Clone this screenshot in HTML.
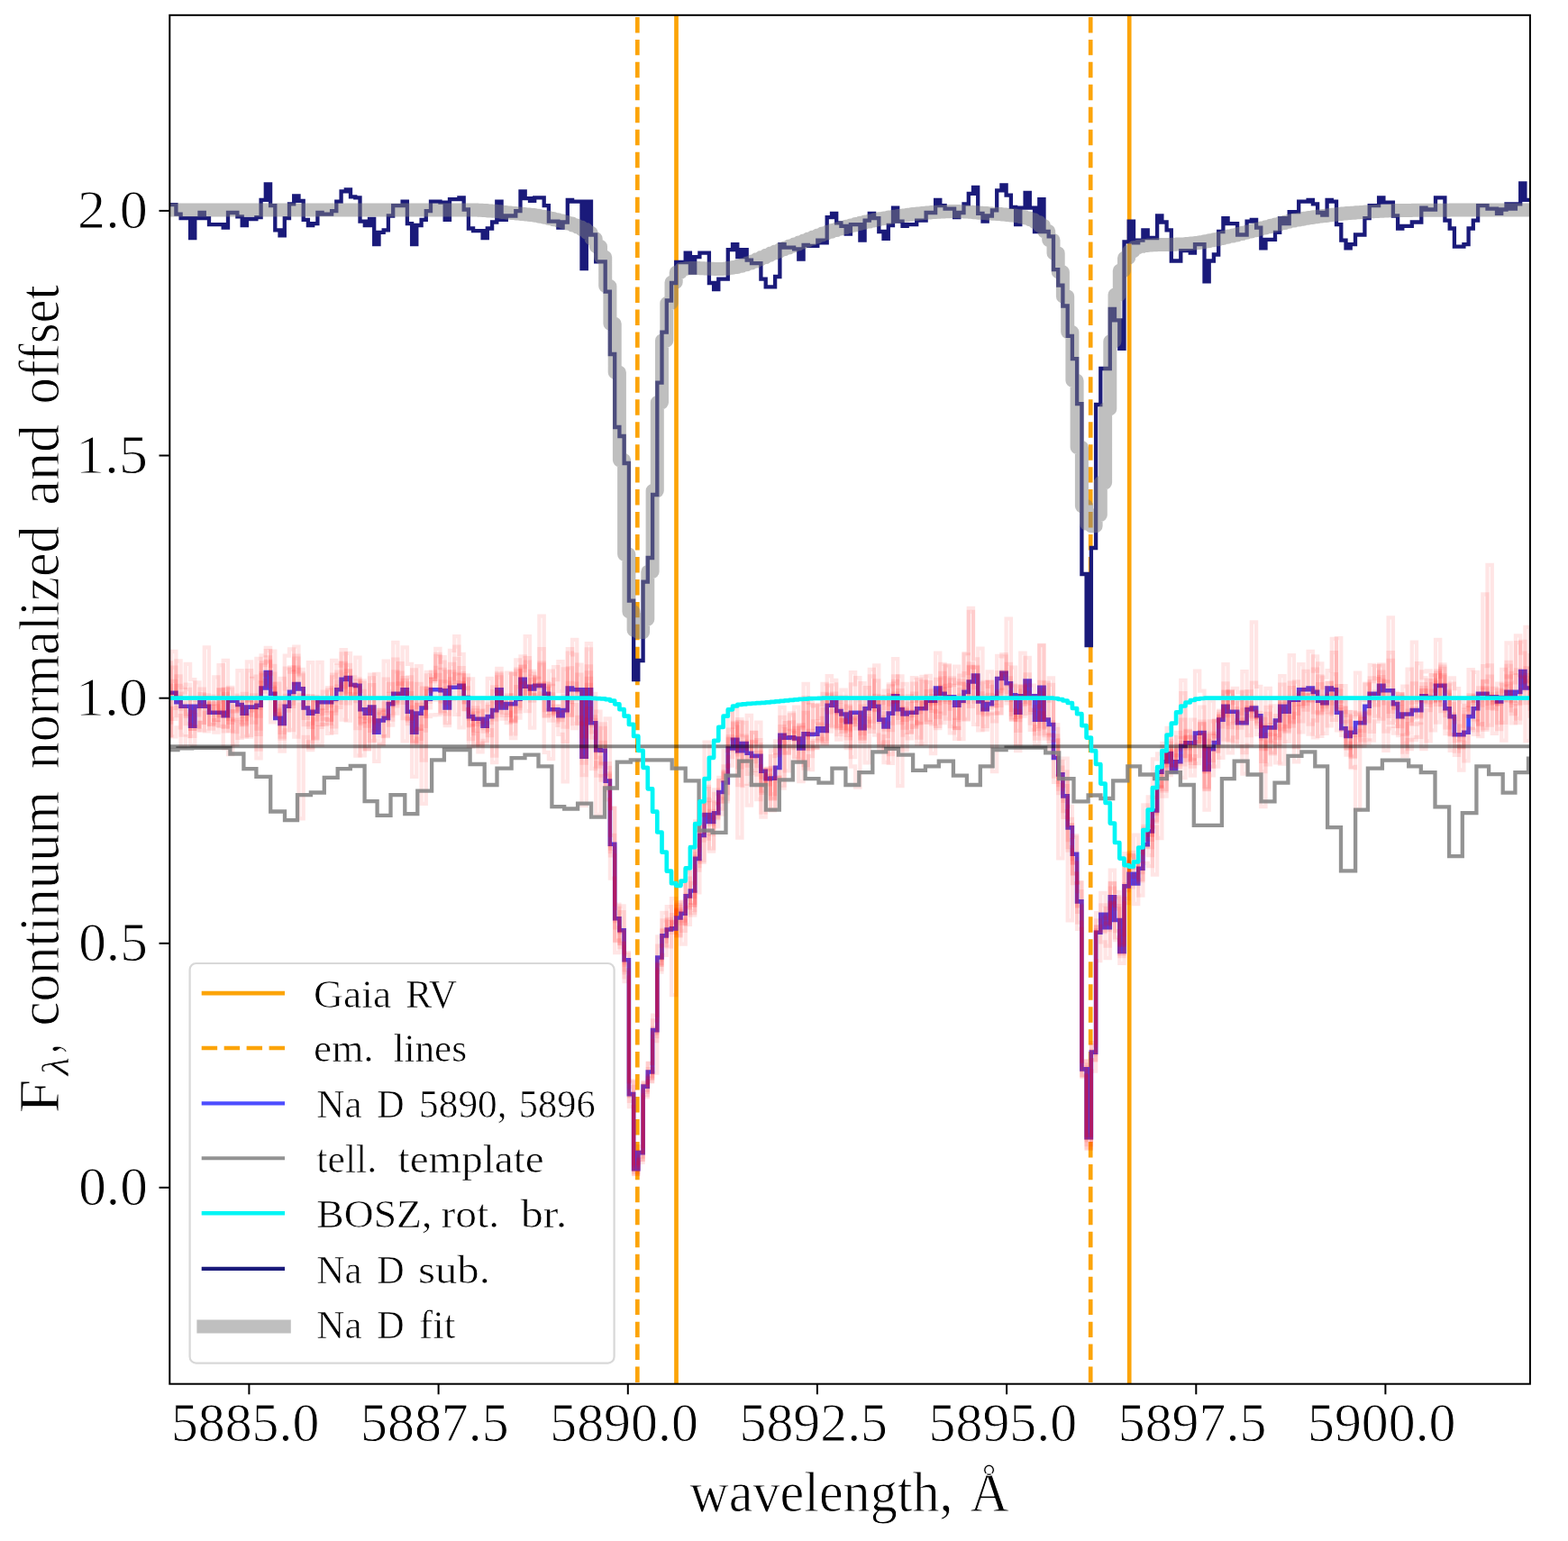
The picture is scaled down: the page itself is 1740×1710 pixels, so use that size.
<!DOCTYPE html>
<html lang="en"><head><meta charset="utf-8"><title>Na D 5890, 5896 spectrum</title><style>html,body{margin:0;padding:0;background:#fff}svg{display:block}</style></head><body>
<svg width="1740" height="1710" viewBox="0 0 1740 1710" font-family="'Liberation Serif', serif" fill="#000">
<rect width="1740" height="1710" fill="#fff"/>
<defs><clipPath id="ax"><rect x="188.3" y="16.8" width="1509.6000000000001" height="1518.9"/></clipPath></defs>
<g>
<g clip-path="url(#ax)" fill="none" stroke-linejoin="miter" stroke-linecap="butt">
<line x1="750.5" y1="1535.7" x2="750.5" y2="16.8" stroke="#fca408" stroke-width="4.7"/>
<line x1="1253.2" y1="1535.7" x2="1253.2" y2="16.8" stroke="#fca408" stroke-width="4.7"/>
<line x1="707.3" y1="1534.0" x2="707.3" y2="16.8" stroke="#fca408" stroke-width="4.7" stroke-dasharray="17.45 7.51"/>
<line x1="1210.2" y1="1534.0" x2="1210.2" y2="16.8" stroke="#fca408" stroke-width="4.7" stroke-dasharray="17.45 7.51"/>
<path d="M188.3 768.8H190.1V768.8H195.4V779.3H200.6V783.7H205.8V783.7H211.1V805.6H216.3V783.7H221.5V777.6H226.8V783.7H232V790.7H237.3V790.7H242.5V790.7H247.7V794.2H253V777.6H258.2V777.6H263.4V782H268.7V791.6H273.9V784.6H279.1V784.6H284.4V782.8H289.6V763.5H294.8V746H300.1V769.7H305.3V796.9H310.5V803H315.8V783.7H321V767.9H326.2V759.1H331.5V764.4H336.7V785.5H341.9V791.6H347.2V789.8H352.4V777.6H357.6V779.3H362.9V779.3H368.1V775.8H373.3V765.3H378.6V753.9H383.8V752.1H389V760H394.3V760.9H399.5V787.2H404.8V791.6H410V784.6H415.2V812.7H420.5V799.5H425.7V796.9H430.9V781.1H436.2V769.7H441.4V769.7H446.6V765.3H451.9V789.8H457.1V812.7H462.3V791.6H467.6V785.5H472.8V775.8H478V765.3H483.3V765.3H488.5V766.2H493.7V785.5H499V762.7H504.2V762.7H509.4V760.9H514.7V774.1H519.9V795.1H525.1V797.7H530.4V797.7H535.6V805.6H540.8V795.1H546.1V788.1H551.3V765.3H556.6V785.5H561.8V781.1H567V781.1H572.3V775.8H577.5V753.9H582.7V761.8H588V764.4H593.2V760.9H598.4V760.9H603.7V769.7H608.9V787.2H614.1V787.2H619.4V794.2H624.6V788.1H629.8V763.5H635.1V765.3H640.3V765.3H645.5V839.8H650.8V765.3H656V802.3H661.2V832.4H666.5V832.7H671.7V866.6H676.9V936.7H682.2V1019.3H687.4V1032.3H692.6V1065.3H697.9V1214.1H703.1V1297.2H708.3V1279.1H713.6V1205.6H718.8V1189.5H724.1V1143.1H729.3V1062.5H734.5V1038.4H739.8V1031.5H745V1030.4H750.2V1018.5H755.5V1013.8H760.7V994.4H765.9V988.5H771.2V952.9H776.4V926.9H781.6V904H786.9V911.9H792.1V902.2H797.3V879H802.6V868.5H807.8V830.5H813V820.9H818.3V833.3H823.5V825H828.7V835.8H834V838.9H839.2V838.7H844.4V855.7H849.7V864.1H854.9V863.6H860.1V851.9H865.4V815.7H870.6V818.7H875.8V818.2H881.1V819.5H886.3V830.5H891.6V814.4H896.8V815H902V814.7H907.3V808.4H912.5V810.9H917.7V782.8H923V778.4H928.2V789H933.4V792.5H938.7V801.2H943.9V790.7H949.1V790.7H954.4V808.3H959.6V786.3H964.8V778.4H970.1V783.7H975.3V798.6H980.5V806.5H985.8V791.6H991V772.3H996.2V787.2H1001.5V792.5H1006.7V790.7H1011.9V790.7H1017.2V786.3H1022.4V786.3H1027.6V777.6H1032.9V777.6H1038.1V763.5H1043.3V769.7H1048.6V773.2H1053.8V773.2H1059.1V782.8H1064.3V777.6H1069.5V767.9H1074.8V756.5H1080V749.5H1085.2V778.4H1090.5V787.2H1095.7V781.1H1100.9V774.9H1106.2V753H1111.4V746.9H1116.6V758.3H1121.9V771.4H1127.1V790.7H1132.3V772.3H1137.6V755.6H1142.8V772.3H1148V798.6H1153.3V762.7H1158.5V798.6H1163.7V804H1169V841H1174.2V859.4H1179.4V883.4H1184.7V918.4H1189.9V947.7H1195.1V1000.4H1200.4V1186.4H1205.6V1262.3H1210.9V1167.6H1216.1V1034.7H1221.3V1014.7H1226.6V1029.1H1231.8V995.4H1237V1021H1242.3V1055.9H1247.5V983.4H1252.7V969.8H1258V980.5H1263.2V963.8H1268.4V937.3H1273.7V922.5H1278.9V899.5H1284.1V856.7H1289.4V845.2H1294.6V836.1H1299.8V856.3H1305.1V845.2H1310.3V827.9H1315.5V824.2H1320.8V824.5H1326V813.6H1331.2V813.1H1336.5V854H1341.7V831.1H1346.9V824.1H1352.2V798.6H1357.4V783.7H1362.6V789.8H1367.9V789.8H1373.1V802.1H1378.4V802.1H1383.6V787.2H1388.8V785.5H1394.1V794.2H1399.3V817H1404.5V807.4H1409.8V807.4H1415V799.5H1420.2V783.7H1425.5V789.8H1430.7V776.7H1435.9V776.7H1441.2V765.3H1446.4V765.3H1451.6V763.5H1456.9V767.9H1462.1V777.6H1467.3V780.2H1472.6V763.5H1477.8V765.3H1483V790.7H1488.3V808.3H1493.5V817H1498.7V812.7H1504V802.1H1509.2V802.1H1514.4V783.7H1519.7V769.7H1524.9V769.7H1530.1V760.9H1535.4V766.2H1540.6V766.2H1545.9V781.1H1551.1V795.1H1556.3V792.5H1561.6V792.5H1566.8V788.1H1572V788.1H1577.3V772.3H1582.5V774.1H1587.7V774.1H1593V760.9H1598.2V760.9H1603.4V786.3H1608.7V795.1H1613.9V815.3H1619.1V815.3H1624.4V812.7H1629.6V795.1H1634.8V786.3H1640.1V769.7H1645.3V769.7H1650.5V773.2H1655.8V773.2H1661V778.4H1666.2V774.1H1671.5V767.9H1676.7V773.2H1681.9V767.9H1687.2V745.1H1692.4V763.5H1697.6V763.5H1697.9M213.7 805.6V783.7M224.2 777.6V783.7M250.3 794.2V790.7M271.3 791.6V784.6M297.4 746V763.5M313.2 803V796.9M328.9 759.1V764.4M344.6 791.6V789.8M355 777.6V779.3M386.4 752.1V753.9M407.4 791.6V787.2M412.6 784.6V791.6M417.8 812.7V799.5M449.2 765.3V769.7M459.7 812.7V791.6M496.4 785.5V766.2M512.1 760.9V762.7M538.2 805.6V797.7M553.9 765.3V785.5M559.2 785.5V781.1M580.1 753.9V761.8M590.6 764.4V761.8M622 794.2V788.1M632.4 763.5V765.3M648.2 839.8V765.3M653.4 765.3V802.3M705.7 1297.2V1279.1M784.2 904V911.9M789.5 911.9V904M815.7 820.9V830.5M820.9 833.3V825M826.1 825V833.3M868 815.7V818.7M888.9 830.5V819.5M909.9 808.4V810.9M915.1 810.9V808.4M925.6 778.4V782.8M941.3 801.2V792.5M957 808.3V790.7M967.5 778.4V783.7M983.2 806.5V798.6M993.6 772.3V787.2M1004.1 792.5V790.7M1040.7 763.5V769.7M1061.7 782.8V777.6M1082.6 749.5V756.5M1093.1 787.2V781.1M1114 746.9V753M1129.7 790.7V772.3M1140.2 755.6V772.3M1150.7 798.6V772.3M1155.9 762.7V798.6M1208.2 1262.3V1186.4M1223.9 1014.7V1029.1M1229.2 1029.1V1014.7M1234.4 995.4V1021M1244.9 1055.9V1021M1255.3 969.8V980.5M1260.6 980.5V969.8M1297.2 836.1V845.2M1302.5 856.3V845.2M1339.1 854V831.1M1360 783.7V789.8M1391.4 785.5V787.2M1401.9 817V807.4M1422.8 783.7V789.8M1428.1 789.8V783.7M1454.2 763.5V765.3M1470 780.2V777.6M1475.2 763.5V765.3M1496.1 817V812.7M1532.8 760.9V766.2M1553.7 795.1V792.5M1579.9 772.3V774.1M1663.6 778.4V774.1M1674.1 767.9V773.2M1679.3 773.2V767.9M1689.8 745.1V763.5" stroke="#4444f8" stroke-width="4.6" stroke-linecap="square"/>
<path d="M188.3 816.2H190.1V772.4H195.4V733.5H200.6V768.4H205.8V764.9H211.1V816.8H216.3V806.5H221.5V801.8H226.8V780.9H232V808.6H237.3V804.9H242.5V765.3H247.7V830.6H253V837.1H258.2V789.1H263.4V784.2H268.7V794.5H273.9V815.9H279.1V780.2H284.4V785.7H289.6V747.2H294.8V771.6H300.1V764.1H305.3V792H310.5V817.5H315.8V788.6H321V780.7H326.2V727.7H331.5V908.3H336.7V817.9H341.9V829.5H347.2V798.3H352.4V792.9H357.6V788.6H362.9V763.1H368.1V812.9H373.3V784.8H378.6V759.1H383.8V780.3H389V751.4H394.3V753.3H399.5V803.1H404.8V831H410V748.7H415.2V802.5H420.5V790.2H425.7V795.3H430.9V781.2H436.2V731.6H441.4V770H446.6V779.8H451.9V758.3H457.1V811.4H462.3V808.8H467.6V805.8H472.8V749.3H478V750.8H483.3V719.8H488.5V778.3H493.7V802.1H499V753.3H504.2V730.8H509.4V747.1H514.7V764.2H519.9V753.4H525.1V814.1H530.4V825.2H535.6V821.9H540.8V802.1H546.1V779.8H551.3V741.8H556.6V776.4H561.8V746.7H567V799.7H572.3V732.5H577.5V772.9H582.7V734.7H588V807.7H593.2V752.9H598.4V759.7H603.7V757.8H608.9V770.4H614.1V792H619.4V795.7H624.6V777.4H629.8V793.6H635.1V782.1H640.3V802.7H645.5V839.7H650.8V714.1H656V769.9H661.2V850.5H666.5V847.5H671.7V847.1H676.9V945.1H682.2V1043.3H687.4V1047.1H692.6V1079.3H697.9V1228H703.1V1294.8H708.3V1278.7H713.6V1217.4H718.8V1194.1H724.1V1155H729.3V1078.6H734.5V1059.9H739.8V1006.2H745V1034.9H750.2V1009.9H755.5V1000.7H760.7V1006.2H765.9V980H771.2V943.6H776.4V922.9H781.6V823.7H786.9V906.7H792.1V906.5H797.3V866.4H802.6V833.2H807.8V809.6H813V831.1H818.3V851.3H823.5V844.7H828.7V849.6H834V823H839.2V821.1H844.4V901.7H849.7V864.8H854.9V885.7H860.1V838H865.4V796H870.6V835.3H875.8V827.8H881.1V839.8H886.3V822.3H891.6V849.1H896.8V839.2H902V829.5H907.3V781.8H912.5V759H917.7V781.9H923V806.3H928.2V787.3H933.4V811.8H938.7V791.2H943.9V840.2H949.1V798.9H954.4V808.9H959.6V763.1H964.8V780.2H970.1V755.3H975.3V795.9H980.5V846H985.8V771.1H991V778.9H996.2V802.2H1001.5V759H1006.7V812.8H1011.9V789.1H1017.2V802.3H1022.4V756.1H1027.6V785.8H1032.9V772.2H1038.1V795.7H1043.3V736.8H1048.6V797.6H1053.8V752.4H1059.1V757.8H1064.3V749.6H1069.5V726.3H1074.8V783.8H1080V740H1085.2V775.3H1090.5V777.8H1095.7V756.3H1100.9V772.4H1106.2V791.3H1111.4V749.2H1116.6V686.6H1121.9V798.4H1127.1V788.9H1132.3V794.7H1137.6V729.8H1142.8V809.9H1148V806.1H1153.3V765.5H1158.5V796H1163.7V752.4H1169V808.9H1174.2V880.1H1179.4V841.6H1184.7V940.2H1189.9V980.1H1195.1V1023.7H1200.4V1184.6H1205.6V1259.5H1210.9V1188.6H1216.1V1028.5H1221.3V1018.7H1226.6V1018.8H1231.8V1001.4H1237V995.1H1242.3V1048.2H1247.5V1002.2H1252.7V945.9H1258V973.8H1263.2V951.6H1268.4V893.5H1273.7V940.2H1278.9V901.1H1284.1V873.3H1289.4V883.7H1294.6V830.5H1299.8V849.4H1305.1V817.9H1310.3V798.6H1315.5V824.6H1320.8V842.2H1326V744.7H1331.2V766.7H1336.5V856.1H1341.7V850.6H1346.9V833H1352.2V792.4H1357.4V758.3H1362.6V768.2H1367.9V780.1H1373.1V807.5H1378.4V798.4H1383.6V794.2H1388.8V783.9H1394.1V796.5H1399.3V805.8H1404.5V848.3H1409.8V814.9H1415V805.9H1420.2V809.1H1425.5V793.7H1430.7V800.6H1435.9V791.8H1441.2V772H1446.4V771.1H1451.6V776.8H1456.9V742.6H1462.1V773H1467.3V772.9H1472.6V758.2H1477.8V780.7H1483V810.4H1488.3V790H1493.5V824.6H1498.7V850.9H1504V898.3H1509.2V797.3H1514.4V800.3H1519.7V771.2H1524.9V794.7H1530.1V770.3H1535.4V770.1H1540.6V794.9H1545.9V781.5H1551.1V773.3H1556.3V761.6H1561.6V831.1H1566.8V818.1H1572V817.9H1577.3V778H1582.5V754.6H1587.7V766.7H1593V801.5H1598.2V759.6H1603.4V768.3H1608.7V814.9H1613.9V774.3H1619.1V829.3H1624.4V787.4H1629.6V743.1H1634.8V814.9H1640.1V777.1H1645.3V756.5H1650.5V626.8H1655.8V813.9H1661V765.6H1666.2V767.6H1671.5V777.6H1676.7V792.2H1681.9V780H1687.2V752.3H1692.4V822.2H1697.6V727.2H1697.9" stroke="#ff0000" stroke-opacity="0.10" stroke-width="4.3" stroke-linecap="square"/>
<path d="M188.3 785.9H190.1V817.3H195.4V807.4H200.6V770H205.8V736.8H211.1V754.2H216.3V776.8H221.5V810.4H226.8V791.1H232V780.6H237.3V780.9H242.5V788.5H247.7V764.5H253V797.8H258.2V826.5H263.4V801.6H268.7V817.3H273.9V734.4H279.1V788.6H284.4V814.8H289.6V749.2H294.8V722.1H300.1V768.3H305.3V792.5H310.5V780.5H315.8V772H321V783.9H326.2V745.4H331.5V742.9H336.7V777.7H341.9V772.1H347.2V776.7H352.4V782.8H357.6V785.8H362.9V765.4H368.1V788.3H373.3V738.7H378.6V725.3H383.8V799.7H389V761.6H394.3V778.2H399.5V801.3H404.8V788.3H410V788.3H415.2V800.4H420.5V792.4H425.7V788.6H430.9V798.7H436.2V777.6H441.4V736.2H446.6V822.3H451.9V751.5H457.1V824.7H462.3V739.2H467.6V843.6H472.8V785.3H478V745.7H483.3V761.8H488.5V742.8H493.7V805H499V775.6H504.2V792.8H509.4V749.1H514.7V763.5H519.9V797.8H525.1V803.5H530.4V804.1H535.6V803.7H540.8V816.1H546.1V789.3H551.3V768.6H556.6V797.5H561.8V793.9H567V747.7H572.3V789.7H577.5V744.2H582.7V730.1H588V747.3H593.2V760.4H598.4V737.4H603.7V834.9H608.9V842.2H614.1V804.9H619.4V799.1H624.6V790.2H629.8V720.1H635.1V726.4H640.3V766.1H645.5V829.3H650.8V786.2H656V795.3H661.2V860.5H666.5V803.4H671.7V876.9H676.9V926.9H682.2V1057.1H687.4V1012.2H692.6V1057.1H697.9V1199.3H703.1V1297H708.3V1286.5H713.6V1211.8H718.8V1200.3H724.1V1126.6H729.3V1070.8H734.5V1049.1H739.8V1022.9H745V1026.5H750.2V1011.1H755.5V1021.4H760.7V1025.9H765.9V1010.1H771.2V990.4H776.4V903.9H781.6V887H786.9V925.6H792.1V890.5H797.3V865.8H802.6V855.9H807.8V819.3H813V802H818.3V831.6H823.5V872H828.7V893.6H834V812.7H839.2V826.2H844.4V906.6H849.7V860.6H854.9V881.2H860.1V863H865.4V871.6H870.6V802.1H875.8V820H881.1V784.6H886.3V807.5H891.6V759H896.8V779.5H902V808.4H907.3V803.7H912.5V824.7H917.7V770.9H923V783.8H928.2V815.2H933.4V765.7H938.7V785.5H943.9V850.5H949.1V873.6H954.4V813H959.6V846.4H964.8V750.5H970.1V779.4H975.3V773.1H980.5V785.8H985.8V761.5H991V778.3H996.2V772.9H1001.5V786.5H1006.7V772.5H1011.9V777.9H1017.2V753.9H1022.4V773.9H1027.6V798.7H1032.9V774.4H1038.1V789.5H1043.3V761.9H1048.6V738.1H1053.8V786.7H1059.1V819.8H1064.3V779H1069.5V779.2H1074.8V756.1H1080V763.1H1085.2V776.3H1090.5V809.7H1095.7V745.4H1100.9V779.7H1106.2V727.9H1111.4V728.4H1116.6V761.4H1121.9V760.6H1127.1V795.8H1132.3V782.1H1137.6V760.4H1142.8V760.6H1148V826.3H1153.3V783.3H1158.5V816H1163.7V816H1169V816.5H1174.2V859.6H1179.4V888.9H1184.7V915.4H1189.9V928.9H1195.1V1011.8H1200.4V1177.2H1205.6V1274.9H1210.9V1175.9H1216.1V1013.1H1221.3V990.8H1226.6V1025.8H1231.8V1001.6H1237V1008.3H1242.3V1061H1247.5V957.8H1252.7V949.6H1258V954.8H1263.2V977.4H1268.4V919.4H1273.7V926.3H1278.9V903.1H1284.1V872H1289.4V846.7H1294.6V824.6H1299.8V838.1H1305.1V826.7H1310.3V754.8H1315.5V830.3H1320.8V798.6H1326V826.7H1331.2V816H1336.5V898.6H1341.7V777.6H1346.9V817.2H1352.2V794.3H1357.4V784.8H1362.6V767.7H1367.9V799.4H1373.1V791.8H1378.4V745.1H1383.6V788.8H1388.8V797.9H1394.1V815.1H1399.3V797.9H1404.5V804.2H1409.8V822.1H1415V816.1H1420.2V781.2H1425.5V810.5H1430.7V727.1H1435.9V781.8H1441.2V767.6H1446.4V765.6H1451.6V803.7H1456.9V799.5H1462.1V790.4H1467.3V778.9H1472.6V790.4H1477.8V724.2H1483V778.7H1488.3V778.3H1493.5V790H1498.7V815.7H1504V746.7H1509.2V797.6H1514.4V824.4H1519.7V821.5H1524.9V767.7H1530.1V738.7H1535.4V762.6H1540.6V724.2H1545.9V786H1551.1V780.7H1556.3V774.2H1561.6V813.6H1566.8V779.3H1572V778H1577.3V745.3H1582.5V744.5H1587.7V749.7H1593V776.7H1598.2V741.9H1603.4V760.4H1608.7V792.5H1613.9V797.4H1619.1V778.8H1624.4V785.3H1629.6V791.7H1634.8V773.9H1640.1V763.4H1645.3V763.1H1650.5V785.5H1655.8V785H1661V802.2H1666.2V776.9H1671.5V750.4H1676.7V757.4H1681.9V749.1H1687.2V746.1H1692.4V695.9H1697.6V772.5H1697.9" stroke="#ff0000" stroke-opacity="0.10" stroke-width="4.3" stroke-linecap="square"/>
<path d="M188.3 816.4H190.1V785.9H195.4V750.3H200.6V762.9H205.8V759.6H211.1V808.8H216.3V785.6H221.5V782H226.8V718.4H232V788.6H237.3V751.3H242.5V794.5H247.7V732.9H253V801.9H258.2V799.9H263.4V773.7H268.7V804.1H273.9V793.5H279.1V787.9H284.4V794.7H289.6V727.4H294.8V718.9H300.1V801.4H305.3V758.7H310.5V803.5H315.8V784H321V771.3H326.2V717.6H331.5V747.5H336.7V796.8H341.9V788.4H347.2V818.6H352.4V735H357.6V798.1H362.9V798.9H368.1V791.6H373.3V761.5H378.6V735.8H383.8V767.6H389V758.8H394.3V768.2H399.5V757.7H404.8V785.9H410V822.1H415.2V747.8H420.5V791.4H425.7V753.6H430.9V794.2H436.2V780.3H441.4V773H446.6V797H451.9V797.4H457.1V784.8H462.3V758.9H467.6V891.9H472.8V745.8H478V756.2H483.3V725.8H488.5V764.4H493.7V780.4H499V760.5H504.2V760.6H509.4V807.3H514.7V749.5H519.9V789.5H525.1V788.4H530.4V789.3H535.6V811.5H540.8V795.6H546.1V846.2H551.3V751.5H556.6V778.4H561.8V785.7H567V819H572.3V744.6H577.5V757.1H582.7V761.4H588V770.8H593.2V773.9H598.4V769.4H603.7V794.3H608.9V799.5H614.1V740.2H619.4V767.2H624.6V742.5H629.8V777H635.1V808H640.3V795.9H645.5V893.8H650.8V739.4H656V774.6H661.2V829.3H666.5V824H671.7V858.5H676.9V938.1H682.2V1007.9H687.4V1046.5H692.6V1070.6H697.9V1215.6H703.1V1303.2H708.3V1283.5H713.6V1201.8H718.8V1186.2H724.1V1190.7H729.3V1049.7H734.5V1032.9H739.8V1019.8H745V1030.8H750.2V1009.2H755.5V1032.8H760.7V997.2H765.9V1004.9H771.2V961.1H776.4V905.1H781.6V872.8H786.9V910.6H792.1V917.3H797.3V863H802.6V858.7H807.8V789.4H813V806.7H818.3V929.5H823.5V822.9H828.7V841.8H834V854.9H839.2V835.1H844.4V853.8H849.7V870.4H854.9V832.8H860.1V835.3H865.4V806.2H870.6V814.5H875.8V791.3H881.1V842.5H886.3V804.3H891.6V818.7H896.8V782.2H902V783.4H907.3V796.8H912.5V820H917.7V775.7H923V769.6H928.2V820.7H933.4V798.9H938.7V815.8H943.9V759.4H949.1V752.1H954.4V823.2H959.6V797.3H964.8V807.4H970.1V777H975.3V780H980.5V766.7H985.8V846.9H991V750.3H996.2V792.2H1001.5V807.6H1006.7V797.7H1011.9V806.9H1017.2V775.6H1022.4V784.8H1027.6V750H1032.9V788.8H1038.1V805.8H1043.3V791.6H1048.6V764.7H1053.8V806H1059.1V799H1064.3V764.8H1069.5V798.6H1074.8V736.3H1080V740.9H1085.2V791H1090.5V787.6H1095.7V791.7H1100.9V791.7H1106.2V767H1111.4V745.8H1116.6V759.8H1121.9V787.8H1127.1V833H1132.3V724.7H1137.6V780.7H1142.8V775.2H1148V771.8H1153.3V715.9H1158.5V814H1163.7V759.8H1169V804.1H1174.2V871H1179.4V906.8H1184.7V894.9H1189.9V953.1H1195.1V1004.6H1200.4V1193.2H1205.6V1265.4H1210.9V1165.9H1216.1V1021.5H1221.3V1045.4H1226.6V1063.2H1231.8V979.9H1237V1033.2H1242.3V1037.2H1247.5V981.3H1252.7V948.9H1258V951H1263.2V968.1H1268.4V939.7H1273.7V916.3H1278.9V885.1H1284.1V868.9H1289.4V875.8H1294.6V833.4H1299.8V856.7H1305.1V848H1310.3V848.4H1315.5V810.9H1320.8V860.5H1326V823.5H1331.2V784.7H1336.5V876H1341.7V821.8H1346.9V814H1352.2V788.7H1357.4V820.6H1362.6V766.8H1367.9V786.1H1373.1V790.8H1378.4V787.6H1383.6V785.2H1388.8V757.6H1394.1V761.8H1399.3V895.1H1404.5V823.6H1409.8V810.4H1415V846.4H1420.2V750.2H1425.5V822.9H1430.7V763.2H1435.9V771.1H1441.2V769.5H1446.4V787.7H1451.6V771.1H1456.9V765.1H1462.1V759.1H1467.3V784H1472.6V771.9H1477.8V770.2H1483V761.1H1488.3V801.2H1493.5V830.7H1498.7V839H1504V818.5H1509.2V821.3H1514.4V792.3H1519.7V737.9H1524.9V753.1H1530.1V754.8H1535.4V756.1H1540.6V685.4H1545.9V805.9H1551.1V784.5H1556.3V796.2H1561.6V788.6H1566.8V785.7H1572V794.4H1577.3V759.2H1582.5V822.3H1587.7V766.7H1593V744.4H1598.2V782.1H1603.4V807.3H1608.7V752.3H1613.9V833.7H1619.1V822.6H1624.4V844.3H1629.6V807.8H1634.8V800.5H1640.1V817H1645.3V659.5H1650.5V804.6H1655.8V763.8H1661V780.5H1666.2V742.8H1671.5V751.3H1676.7V746.8H1681.9V713.1H1687.2V724.6H1692.4V762H1697.6V741.9H1697.9" stroke="#ff0000" stroke-opacity="0.10" stroke-width="4.3" stroke-linecap="square"/>
<path d="M188.3 761H190.1V797.9H195.4V785.1H200.6V786.7H205.8V803H211.1V789.6H216.3V757.3H221.5V775.6H226.8V771.4H232V772.7H237.3V798.8H242.5V778.8H247.7V792.4H253V778.9H258.2V789.3H263.4V744.2H268.7V785.7H273.9V817.6H279.1V774.9H284.4V841.3H289.6V758.7H294.8V729.4H300.1V738.8H305.3V793.7H310.5V819.7H315.8V741.7H321V745.7H326.2V730.7H331.5V771.7H336.7V772.7H341.9V832H347.2V780.7H352.4V826.5H357.6V803.9H362.9V813.8H368.1V751.5H373.3V745.7H378.6V769.1H383.8V724.8H389V759.8H394.3V808.2H399.5V797.4H404.8V831.3H410V784.4H415.2V806.4H420.5V817.2H425.7V780.6H430.9V759H436.2V791.7H441.4V758.3H446.6V769.1H451.9V797.6H457.1V743.3H462.3V808.7H467.6V794.9H472.8V778.8H478V753.7H483.3V749H488.5V789.2H493.7V756.3H499V721.9H504.2V717.7H509.4V758.5H514.7V787H519.9V820.1H525.1V791.4H530.4V800.7H535.6V808.2H540.8V810.1H546.1V838.7H551.3V773.3H556.6V790.6H561.8V790.6H567V814.3H572.3V783.3H577.5V758.7H582.7V789.2H588V750.8H593.2V763H598.4V759H603.7V761.9H608.9V794H614.1V790.1H619.4V783.6H624.6V772.3H629.8V724.7H635.1V770.7H640.3V748.7H645.5V817.2H650.8V798.7H656V812.3H661.2V833.9H666.5V833.6H671.7V797.5H676.9V897.1H682.2V1022H687.4V1034.6H692.6V1084.4H697.9V1221.9H703.1V1292.6H708.3V1287.1H713.6V1200.9H718.8V1195.9H724.1V1146.7H729.3V1064.3H734.5V1012.9H739.8V1027.1H745V1023.5H750.2V1003.8H755.5V1047.7H760.7V965.5H765.9V1015.6H771.2V965.6H776.4V915H781.6V927.5H786.9V944.6H792.1V880.8H797.3V885.5H802.6V850.3H807.8V820.6H813V825.4H818.3V798.2H823.5V830.7H828.7V794H834V857.8H839.2V859.6H844.4V869.9H849.7V855.2H854.9V886.5H860.1V866.3H865.4V784.9H870.6V814.8H875.8V793.5H881.1V811.7H886.3V842.8H891.6V830.9H896.8V811H902V813.2H907.3V819.7H912.5V823H917.7V750.2H923V754.8H928.2V782.2H933.4V799.9H938.7V810.3H943.9V746.1H949.1V803.9H954.4V758.1H959.6V800.9H964.8V811.9H970.1V738.3H975.3V801H980.5V773.2H985.8V781.7H991V777.7H996.2V766.1H1001.5V798.9H1006.7V781H1011.9V793.8H1017.2V825.6H1022.4V777.5H1027.6V801.5H1032.9V780.8H1038.1V754H1043.3V802H1048.6V760.9H1053.8V760H1059.1V739.7H1064.3V759H1069.5V760.2H1074.8V771.6H1080V750.1H1085.2V810.3H1090.5V778.3H1095.7V785.7H1100.9V783.4H1106.2V752.8H1111.4V726.1H1116.6V752.5H1121.9V798.6H1127.1V761.7H1132.3V771.9H1137.6V748.3H1142.8V772.6H1148V819.6H1153.3V757H1158.5V807.6H1163.7V822.9H1169V838.9H1174.2V844.8H1179.4V872.1H1184.7V915.4H1189.9V969.2H1195.1V1005.8H1200.4V1187.7H1205.6V1270.1H1210.9V1160.3H1216.1V1033.8H1221.3V1034.1H1226.6V1007.9H1231.8V965.7H1237V1040.4H1242.3V1058.6H1247.5V997.1H1252.7V957.7H1258V1003H1263.2V956.1H1268.4V931.1H1273.7V884.3H1278.9V970.5H1284.1V872.6H1289.4V850H1294.6V816.9H1299.8V855.1H1305.1V830.6H1310.3V819H1315.5V843.6H1320.8V827.6H1326V822.8H1331.2V820.5H1336.5V873H1341.7V816.1H1346.9V818.4H1352.2V840.9H1357.4V768.1H1362.6V803.1H1367.9V823.3H1373.1V776.7H1378.4V803.4H1383.6V780.2H1388.8V789.3H1394.1V795.9H1399.3V856.2H1404.5V792H1409.8V824.1H1415V800H1420.2V786.5H1425.5V812.1H1430.7V805.7H1435.9V781H1441.2V737.2H1446.4V781.2H1451.6V778.2H1456.9V766.7H1462.1V791.5H1467.3V751.7H1472.6V744.2H1477.8V708.9H1483V786.7H1488.3V761.1H1493.5V830.2H1498.7V808.4H1504V825.7H1509.2V811H1514.4V791.2H1519.7V756.2H1524.9V739.1H1530.1V767.2H1535.4V832.8H1540.6V766.4H1545.9V785.1H1551.1V806H1556.3V773.7H1561.6V742.7H1566.8V803.5H1572V803.7H1577.3V831H1582.5V788.1H1587.7V754.9H1593V781.8H1598.2V739.7H1603.4V771H1608.7V781.1H1613.9V801.3H1619.1V817.7H1624.4V790.1H1629.6V771.2H1634.8V777.8H1640.1V769.8H1645.3V739.2H1650.5V738.3H1655.8V786.6H1661V758.7H1666.2V771.8H1671.5V713.5H1676.7V779.5H1681.9V781.1H1687.2V765.6H1692.4V741.5H1697.6V786.7H1697.9" stroke="#ff0000" stroke-opacity="0.10" stroke-width="4.3" stroke-linecap="square"/>
<path d="M188.3 769.1H190.1V740.7H195.4V772.9H200.6V780.3H205.8V794.9H211.1V827H216.3V810.3H221.5V802H226.8V774.4H232V784.1H237.3V812.6H242.5V765.4H247.7V811.4H253V789.4H258.2V812.2H263.4V804H268.7V774.4H273.9V777.1H279.1V801.7H284.4V757.1H289.6V767.7H294.8V746.8H300.1V747.6H305.3V789H310.5V812.9H315.8V810.5H321V740.4H326.2V817.6H331.5V781.6H336.7V828H341.9V823.3H347.2V773.1H352.4V787.9H357.6V791.7H362.9V783H368.1V733H373.3V735.6H378.6V748.3H383.8V770.1H389V772H394.3V755.4H399.5V795.1H404.8V796.8H410V810.8H415.2V844.9H420.5V826.4H425.7V793.9H430.9V804.6H436.2V713H441.4V758.9H446.6V752.1H451.9V769.2H457.1V861.9H462.3V819.9H467.6V792.4H472.8V763.8H478V753.9H483.3V728.2H488.5V734.7H493.7V762.6H499V736.9H504.2V756.9H509.4V741.1H514.7V787.2H519.9V804.5H525.1V776.6H530.4V834.3H535.6V774.3H540.8V752.9H546.1V798.3H551.3V746.8H556.6V780.5H561.8V802.2H567V771.3H572.3V762.1H577.5V728.3H582.7V773.9H588V754.4H593.2V773.4H598.4V735.5H603.7V770.2H608.9V744.7H614.1V800.7H619.4V789.8H624.6V806.6H629.8V779H635.1V709.9H640.3V767.7H645.5V840H650.8V746.4H656V818.5H661.2V789.6H666.5V847.4H671.7V872.9H676.9V896.5H682.2V1044H687.4V1005.5H692.6V1059H697.9V1206H703.1V1300.7H708.3V1277.9H713.6V1215.1H718.8V1180.2H724.1V1145H729.3V1070.4H734.5V1044.5H739.8V1032.8H745V1015.2H750.2V1006H755.5V1024.6H760.7V1007.4H765.9V1004.2H771.2V938.3H776.4V917.3H781.6V924H786.9V941.3H792.1V902.5H797.3V889.5H802.6V857.2H807.8V832.3H813V803.5H818.3V815.6H823.5V802H828.7V843.6H834V823.4H839.2V850.1H844.4V879.8H849.7V859.1H854.9V839.1H860.1V822.4H865.4V816.6H870.6V855.4H875.8V810.9H881.1V823.8H886.3V817.1H891.6V791H896.8V824.2H902V830H907.3V816.8H912.5V825.7H917.7V805.2H923V773.5H928.2V805.5H933.4V798.8H938.7V808.7H943.9V804.5H949.1V777.4H954.4V818.5H959.6V788.5H964.8V742.9H970.1V787.3H975.3V831H980.5V817.2H985.8V802.6H991V758.4H996.2V750.5H1001.5V788.5H1006.7V794.2H1011.9V758.7H1017.2V818.5H1022.4V780.2H1027.6V757.1H1032.9V779.3H1038.1V768.4H1043.3V766.2H1048.6V739.3H1053.8V760.8H1059.1V796.8H1064.3V771.7H1069.5V725.1H1074.8V675H1080V731.3H1085.2V774.7H1090.5V757H1095.7V761.8H1100.9V772.3H1106.2V769.1H1111.4V745.5H1116.6V736.9H1121.9V796.4H1127.1V826.8H1132.3V761.3H1137.6V791.9H1142.8V802.5H1148V809.1H1153.3V769H1158.5V798.2H1163.7V801.2H1169V821.1H1174.2V862.3H1179.4V900.2H1184.7V1021.4H1189.9V927.2H1195.1V989.1H1200.4V1181.4H1205.6V1262.8H1210.9V1176.5H1216.1V1028.7H1221.3V1016.7H1226.6V1049.7H1231.8V980.3H1237V1043H1242.3V1068.9H1247.5V956.2H1252.7V984.3H1258V978.8H1263.2V947.4H1268.4V938.5H1273.7V949.2H1278.9V910.2H1284.1V859.3H1289.4V877.5H1294.6V808H1299.8V851.5H1305.1V832.4H1310.3V824.1H1315.5V811.9H1320.8V843.3H1326V847.1H1331.2V800.6H1336.5V856.3H1341.7V800.3H1346.9V850.6H1352.2V797.1H1357.4V737.2H1362.6V821.7H1367.9V818.4H1373.1V799.4H1378.4V767.3H1383.6V816H1388.8V786.4H1394.1V800.6H1399.3V831.2H1404.5V815.2H1409.8V783.3H1415V798.9H1420.2V847.5H1425.5V806H1430.7V777.1H1435.9V845.3H1441.2V783.9H1446.4V777.3H1451.6V814.7H1456.9V728.3H1462.1V816.8H1467.3V781.6H1472.6V770.4H1477.8V798.8H1483V766.6H1488.3V809.6H1493.5V837.6H1498.7V790.1H1504V792.8H1509.2V827.5H1514.4V820.7H1519.7V752.3H1524.9V775.7H1530.1V797.6H1535.4V756.4H1540.6V802.1H1545.9V799.5H1551.1V816H1556.3V839.2H1561.6V780H1566.8V712.6H1572V776.5H1577.3V765.8H1582.5V782.7H1587.7V778.3H1593V757.2H1598.2V749.2H1603.4V814H1608.7V796.7H1613.9V822.2H1619.1V805.6H1624.4V794.5H1629.6V772.9H1634.8V798.4H1640.1V782.7H1645.3V755.8H1650.5V780.9H1655.8V779.8H1661V769.6H1666.2V766.9H1671.5V738.9H1676.7V802.3H1681.9V743.4H1687.2V757.4H1692.4V749.1H1697.6V794.6H1697.9" stroke="#ff0000" stroke-opacity="0.10" stroke-width="4.3" stroke-linecap="square"/>
<path d="M188.3 801.7H190.1V755.8H195.4V772.9H200.6V829.2H205.8V817.1H211.1V804.5H216.3V793.3H221.5V770.2H226.8V784H232V804.1H237.3V783.4H242.5V793.5H247.7V769.8H253V811.2H258.2V783.9H263.4V798.2H268.7V798.1H273.9V776.7H279.1V771.4H284.4V831.7H289.6V738.2H294.8V734.6H300.1V758.9H305.3V796.5H310.5V783.5H315.8V775.6H321V810H326.2V775.7H331.5V771.4H336.7V804H341.9V802.7H347.2V777.5H352.4V803.9H357.6V797.4H362.9V802.8H368.1V777.7H373.3V756.4H378.6V798.6H383.8V744.3H389V773.9H394.3V729.7H399.5V838.3H404.8V793.2H410V760.2H415.2V821.7H420.5V824.9H425.7V817.2H430.9V769.8H436.2V783.3H441.4V746.7H446.6V765.3H451.9V803.2H457.1V823.1H462.3V782.1H467.6V763.7H472.8V795H478V793.4H483.3V793.1H488.5V756.2H493.7V745.5H499V775.5H504.2V747.9H509.4V770.8H514.7V753.7H519.9V828.5H525.1V785.3H530.4V827.1H535.6V824.7H540.8V781.7H546.1V794H551.3V767.5H556.6V774.3H561.8V773.3H567V748H572.3V742.6H577.5V774.4H582.7V764H588V777.6H593.2V770.8H598.4V720.1H603.7V788H608.9V759.2H614.1V754H619.4V734.1H624.6V788.3H629.8V757.9H635.1V758.7H640.3V774H645.5V803.3H650.8V720.4H656V853H661.2V846.3H666.5V807.9H671.7V887.4H676.9V949.3H682.2V1019.1H687.4V1032.8H692.6V1068H697.9V1216.3H703.1V1290.8H708.3V1289.8H713.6V1209.8H718.8V1199.6H724.1V1140.9H729.3V1068.8H734.5V1031.9H739.8V1031.7H745V997.1H750.2V1038.6H755.5V1021.5H760.7V968.1H765.9V995H771.2V950.7H776.4V955.1H781.6V891.1H786.9V914.8H792.1V892.1H797.3V897.6H802.6V880.1H807.8V849.5H813V786H818.3V871.2H823.5V816.6H828.7V831.2H834V813.1H839.2V833.6H844.4V877.6H849.7V854.6H854.9V899.4H860.1V831H865.4V822.3H870.6V835.7H875.8V830H881.1V807.9H886.3V867.1H891.6V778.3H896.8V831.4H902V782.7H907.3V803H912.5V769.9H917.7V811.6H923V759.4H928.2V791.4H933.4V807.8H938.7V783.6H943.9V797.1H949.1V808.4H954.4V814.1H959.6V805.2H964.8V784.7H970.1V788H975.3V775.6H980.5V809.7H985.8V810.2H991V756H996.2V796.8H1001.5V815.6H1006.7V819.3H1011.9V752.2H1017.2V790.1H1022.4V751H1027.6V801.5H1032.9V803.3H1038.1V724.6H1043.3V777H1048.6V779H1053.8V779.8H1059.1V807.8H1064.3V755.5H1069.5V797.6H1074.8V740H1080V803.9H1085.2V719.7H1090.5V772.2H1095.7V757.1H1100.9V856.2H1106.2V746.2H1111.4V763.6H1116.6V780.3H1121.9V792.5H1127.1V773.5H1132.3V772.8H1137.6V769H1142.8V787.8H1148V814.4H1153.3V791.1H1158.5V806.3H1163.7V830.9H1169V861.5H1174.2V952.4H1179.4V885.4H1184.7V909H1189.9V957.6H1195.1V979.6H1200.4V1193.7H1205.6V1262.5H1210.9V1157.1H1216.1V1032.1H1221.3V1027.8H1226.6V1024.7H1231.8V1002.7H1237V1005.2H1242.3V1046.1H1247.5V988H1252.7V962H1258V926.6H1263.2V945.6H1268.4V922.9H1273.7V926.9H1278.9V911.8H1284.1V873.3H1289.4V824.9H1294.6V860H1299.8V849.1H1305.1V813H1310.3V863H1315.5V817.7H1320.8V846.9H1326V817.6H1331.2V802.8H1336.5V875.3H1341.7V860.3H1346.9V833.9H1352.2V795.1H1357.4V793.8H1362.6V835.3H1367.9V775.6H1373.1V828.2H1378.4V835.2H1383.6V786H1388.8V690.3H1394.1V806.7H1399.3V820.1H1404.5V831H1409.8V836.4H1415V825.8H1420.2V778.6H1425.5V806.3H1430.7V796H1435.9V756.5H1441.2V800.4H1446.4V744.9H1451.6V769H1456.9V790.4H1462.1V779.4H1467.3V787.7H1472.6V757.3H1477.8V771.5H1483V708.2H1488.3V786.2H1493.5V793.8H1498.7V840H1504V810.8H1509.2V776.8H1514.4V758.6H1519.7V770.2H1524.9V772.6H1530.1V737.3H1535.4V811.5H1540.6V808.3H1545.9V813.5H1551.1V770.2H1556.3V824.3H1561.6V799.4H1566.8V758.3H1572V795.7H1577.3V766.5H1582.5V774.1H1587.7V759.1H1593V710H1598.2V789.1H1603.4V788.2H1608.7V758.7H1613.9V764.2H1619.1V820.6H1624.4V782.9H1629.6V780.6H1634.8V772.6H1640.1V803.2H1645.3V808H1650.5V770.5H1655.8V776.6H1661V781.2H1666.2V801.8H1671.5V734.9H1676.7V777.9H1681.9V705.3H1687.2V751.2H1692.4V755.3H1697.6V746.4H1697.9" stroke="#ff0000" stroke-opacity="0.10" stroke-width="4.3" stroke-linecap="square"/>
<path d="M188.3 735.3H190.1V770.3H195.4V760.8H200.6V784.1H205.8V792.7H211.1V790.2H216.3V806.3H221.5V783.6H226.8V811.3H232V779.9H237.3V801.7H242.5V805.8H247.7V806.4H253V763H258.2V771.7H263.4V787.3H268.7V802.4H273.9V744.2H279.1V750.7H284.4V808.7H289.6V735.5H294.8V733.6H300.1V762.7H305.3V787.5H310.5V833.5H315.8V727.6H321V720.3H326.2V758.3H331.5V764H336.7V782.1H341.9V806.8H347.2V777.7H352.4V778.5H357.6V804.2H362.9V790.9H368.1V806.4H373.3V779.9H378.6V762.4H383.8V737.8H389V770.5H394.3V838.5H399.5V755.3H404.8V805.5H410V752.5H415.2V808H420.5V788H425.7V816.4H430.9V779.6H436.2V779.3H441.4V771.8H446.6V755H451.9V799.4H457.1V795.2H462.3V824.2H467.6V810.6H472.8V766.6H478V753.8H483.3V741H488.5V729.2H493.7V775.9H499V745.5H504.2V757.2H509.4V757.7H514.7V779.3H519.9V792.8H525.1V810.5H530.4V801.4H535.6V788.3H540.8V784.2H546.1V762.4H551.3V776.4H556.6V793.8H561.8V771.5H567V800.8H572.3V796.6H577.5V739.6H582.7V769.2H588V744.8H593.2V759.3H598.4V771.6H603.7V794.4H608.9V760.9H614.1V789.7H619.4V814.9H624.6V822.8H629.8V793.5H635.1V775.8H640.3V737.7H645.5V860.1H650.8V759.8H656V798.8H661.2V904H666.5V861.1H671.7V851.8H676.9V974.6H682.2V1003.7H687.4V1033.4H692.6V1089H697.9V1200.6H703.1V1298H708.3V1272.2H713.6V1203.9H718.8V1196.9H724.1V1132.3H729.3V1039.5H734.5V1021.5H739.8V1050.3H745V1022.7H750.2V1037.7H755.5V1024.5H760.7V974.6H765.9V1013.2H771.2V911.4H776.4V956.9H781.6V930.6H786.9V899.8H792.1V908.2H797.3V884H802.6V889.4H807.8V817.1H813V818.4H818.3V837.4H823.5V844.8H828.7V869.9H834V841.5H839.2V887H844.4V871.5H849.7V853.6H854.9V851.9H860.1V862.7H865.4V874.5H870.6V809.1H875.8V801.3H881.1V820.7H886.3V805.4H891.6V774.2H896.8V854H902V822H907.3V821.6H912.5V778.7H917.7V760.6H923V778.2H928.2V778.4H933.4V774.8H938.7V819.3H943.9V797.1H949.1V795.2H954.4V819.8H959.6V805.9H964.8V775.4H970.1V815.7H975.3V826.8H980.5V791.5H985.8V759.4H991V731.2H996.2V872.1H1001.5V786.4H1006.7V812.2H1011.9V805.4H1017.2V801.5H1022.4V779.8H1027.6V767.1H1032.9V836.1H1038.1V780.4H1043.3V747H1048.6V772.9H1053.8V813.4H1059.1V808H1064.3V820.1H1069.5V747.1H1074.8V678.8H1080V778.7H1085.2V769.5H1090.5V805.9H1095.7V770.8H1100.9V783.2H1106.2V782.8H1111.4V765.6H1116.6V776.9H1121.9V740.6H1127.1V810.8H1132.3V762.5H1137.6V778.9H1142.8V791H1148V796.6H1153.3V779.3H1158.5V757.7H1163.7V777.7H1169V867.8H1174.2V851.7H1179.4V856.4H1184.7V943.5H1189.9V957.3H1195.1V979.2H1200.4V1195H1205.6V1259.6H1210.9V1169.7H1216.1V1034.1H1221.3V1032.7H1226.6V1032.2H1231.8V1004.6H1237V996.6H1242.3V1048.9H1247.5V983.8H1252.7V972.5H1258V971.5H1263.2V993.6H1268.4V957.9H1273.7V961.2H1278.9V917.7H1284.1V930H1289.4V837.4H1294.6V849.2H1299.8V833.5H1305.1V850.9H1310.3V839H1315.5V817.9H1320.8V818.3H1326V823.2H1331.2V803.6H1336.5V831.1H1341.7V843.9H1346.9V799.3H1352.2V806.3H1357.4V767.3H1362.6V794.2H1367.9V802H1373.1V795.5H1378.4V858.6H1383.6V827H1388.8V789.8H1394.1V803.1H1399.3V844.8H1404.5V763.9H1409.8V801.7H1415V819H1420.2V775.4H1425.5V781H1430.7V801.6H1435.9V785.7H1441.2V812.3H1446.4V763.5H1451.6V722.8H1456.9V744.7H1462.1V736.5H1467.3V813.9H1472.6V792.3H1477.8V748.1H1483V787.4H1488.3V815.9H1493.5V827.2H1498.7V795.3H1504V791.5H1509.2V815.9H1514.4V789.7H1519.7V811.9H1524.9V800.5H1530.1V751.1H1535.4V780.4H1540.6V789.9H1545.9V778.3H1551.1V770.2H1556.3V814.8H1561.6V803.1H1566.8V797.3H1572V736.2H1577.3V752.2H1582.5V771.4H1587.7V810.4H1593V746.6H1598.2V751H1603.4V794.2H1608.7V815.3H1613.9V828.4H1619.1V854.5H1624.4V824.4H1629.6V808.8H1634.8V810.3H1640.1V780.7H1645.3V809.8H1650.5V750.6H1655.8V780.4H1661V809H1666.2V759.9H1671.5V758.6H1676.7V788.3H1681.9V802.2H1687.2V750.4H1692.4V756.4H1697.6V752.3H1697.9" stroke="#ff0000" stroke-opacity="0.10" stroke-width="4.3" stroke-linecap="square"/>
<path d="M188.3 770.4H190.1V723H195.4V794.2H200.6V815.5H205.8V778.5H211.1V808.8H216.3V780.5H221.5V764.7H226.8V774.3H232V803.6H237.3V799.2H242.5V738.1H247.7V806.6H253V764.7H258.2V798.7H263.4V818.9H268.7V770H273.9V778.3H279.1V752.9H284.4V730.9H289.6V755.2H294.8V760.8H300.1V722.7H305.3V792.3H310.5V753H315.8V764.3H321V743H326.2V740.6H331.5V749.3H336.7V785.5H341.9V735.2H347.2V819.7H352.4V806.8H357.6V767.7H362.9V798.7H368.1V748.7H373.3V764.3H378.6V721.2H383.8V744.6H389V772.8H394.3V763.2H399.5V766.8H404.8V800.4H410V798.3H415.2V811.9H420.5V788H425.7V733.7H430.9V766.8H436.2V745.3H441.4V769.2H446.6V718.3H451.9V736.9H457.1V822.2H462.3V781.7H467.6V781.8H472.8V764H478V767.7H483.3V776.7H488.5V791.2H493.7V792.3H499V757.7H504.2V706.1H509.4V725.8H514.7V779H519.9V805.3H525.1V826.4H530.4V778.6H535.6V799.5H540.8V777.7H546.1V767.2H551.3V748.6H556.6V783.6H561.8V783.5H567V799.4H572.3V786.2H577.5V740H582.7V706.1H588V769.9H593.2V751.7H598.4V683.7H603.7V763.9H608.9V791.3H614.1V783.6H619.4V798.5H624.6V867.4H629.8V741.4H635.1V803H640.3V775.5H645.5V846.5H650.8V752.8H656V805.1H661.2V840.6H666.5V865.5H671.7V860.6H676.9V941.7H682.2V1029.3H687.4V1051H692.6V1076.3H697.9V1212.9H703.1V1302.7H708.3V1278.4H713.6V1204.8H718.8V1179.7H724.1V1150.2H729.3V1075.6H734.5V1040.1H739.8V1037.4H745V1104.1H750.2V1001.3H755.5V1010.8H760.7V992.8H765.9V1001.9H771.2V947.3H776.4V932.7H781.6V875.2H786.9V888.1H792.1V876.4H797.3V903.5H802.6V886.5H807.8V840H813V834.8H818.3V800.8H823.5V818.1H828.7V858.8H834V845.2H839.2V801.7H844.4V862.6H849.7V852.6H854.9V898.4H860.1V863.9H865.4V819.8H870.6V824.9H875.8V819H881.1V812.8H886.3V807.3H891.6V852.5H896.8V814.5H902V800.5H907.3V804.2H912.5V787.2H917.7V790.3H923V789H928.2V808.1H933.4V773.3H938.7V830.1H943.9V801.1H949.1V794.4H954.4V783.6H959.6V793.8H964.8V800.6H970.1V771.8H975.3V824.7H980.5V823.4H985.8V837.1H991V769.7H996.2V785.6H1001.5V832.4H1006.7V797.4H1011.9V769.6H1017.2V803H1022.4V825.3H1027.6V781.7H1032.9V765.9H1038.1V808.2H1043.3V752.4H1048.6V776.8H1053.8V754.5H1059.1V808.1H1064.3V758.7H1069.5V762.8H1074.8V740.6H1080V750.5H1085.2V758.4H1090.5V793H1095.7V792.8H1100.9V800.3H1106.2V791.3H1111.4V747.3H1116.6V768.2H1121.9V775.8H1127.1V799H1132.3V766.6H1137.6V756.7H1142.8V787.7H1148V784.1H1153.3V716.3H1158.5V819.7H1163.7V815.3H1169V821.9H1174.2V875.5H1179.4V865.3H1184.7V932.1H1189.9V969.6H1195.1V1030.9H1200.4V1177.8H1205.6V1273.5H1210.9V1167H1216.1V1066.1H1221.3V1004.5H1226.6V1024H1231.8V985.6H1237V989.9H1242.3V1057H1247.5V947.2H1252.7V959.9H1258V963.3H1263.2V975.8H1268.4V917H1273.7V931.8H1278.9V842.4H1284.1V836.3H1289.4V842.1H1294.6V821.8H1299.8V843.4H1305.1V838.2H1310.3V769.2H1315.5V839H1320.8V850.5H1326V839.2H1331.2V815.4H1336.5V852.1H1341.7V813.8H1346.9V800.1H1352.2V789.8H1357.4V776.8H1362.6V807H1367.9V763.9H1373.1V768.4H1378.4V800.9H1383.6V767.3H1388.8V795.6H1394.1V790.8H1399.3V805.1H1404.5V784.8H1409.8V835H1415V794.2H1420.2V759.7H1425.5V778.3H1430.7V757.7H1435.9V829.2H1441.2V781.3H1446.4V771.4H1451.6V777.6H1456.9V818.3H1462.1V750.5H1467.3V763.2H1472.6V805.4H1477.8V773.8H1483V784.2H1488.3V785.2H1493.5V800.6H1498.7V852.1H1504V814.4H1509.2V795.2H1514.4V759.6H1519.7V777.9H1524.9V782.3H1530.1V745.7H1535.4V761.2H1540.6V733H1545.9V768.6H1551.1V771.5H1556.3V834.6H1561.6V821.2H1566.8V821H1572V802.2H1577.3V763.2H1582.5V779.3H1587.7V749.1H1593V777.6H1598.2V737.5H1603.4V766.6H1608.7V832.9H1613.9V837.9H1619.1V828.3H1624.4V794.6H1629.6V777.5H1634.8V745.8H1640.1V804.2H1645.3V764.6H1650.5V773.6H1655.8V779.7H1661V781.7H1666.2V821.7H1671.5V761.5H1676.7V783.2H1681.9V797.4H1687.2V712H1692.4V780.2H1697.6V758.7H1697.9" stroke="#ff0000" stroke-opacity="0.10" stroke-width="4.3" stroke-linecap="square"/>
<path d="M188.3 832.1H197.5V830.4H213.3V829.8H255.4V836.5H270.4V853.2H284.4V861.9H300.2V900.5H316V910.2H330V882.1H344.9V879.5H359.8V862.8H374.7V853.2H388.8V850H404.6V889.1H418.6V904.9H433.5V882.1H449.3V903.2H463.3V877.7H479.1V843.4H492.9V832H521.6V848H537.7V871H551.5V852.6H567.6V841.1H582.5V837.7H597.5V850.3H612.4V895.2H626.2V897.5H641.1V891.7H656.1V906.7H671V874.5H684.8V845.7H699.8V843.4H745.7V852.6H760.7V866.4H775.6V921.6H790.6V923.9H805.5V860.7H820V844.6H833.8V871H849.9V898.6H864.8V865.3H879.8V845.7H893.6V864.1H908.5V868.7H923.4V852.6H938.4V871H953.3V857.2H968.3V834.3H983.2V830.8H997V837.7H1013.1V854.9H1026.9V850.3H1041.8V844.6H1057.9V860.7H1072.9V871H1087.8V850.3H1101.6V832H1116.6V829.7H1160.2V835.4H1175.2V864.1H1191.5V889.4H1207.6V882.5H1221.4V886H1235.2V866.4H1251.3V850.3H1265.1V859.5H1281.1V864.1H1294.9V857.2H1309.9V871H1324.8V915.9H1355.9V864.1H1369.7V844.6H1384.6V859.5H1399.5V889.4H1414.5V868.7H1429.4V838.9H1444.4V834.3H1459.3V850.3H1473.1V918.2H1488V966.4H1504.1V898.6H1517.9V852.6H1533.9V843.6H1563.2V850.4H1576.8V857.2H1592.5V895.3H1608.1V950.1H1622.8V902.2H1638.4V850.4H1652.1V859.2H1667.7V879.7H1681.4V857.2H1696V841.6H1697.9" stroke="#808080" stroke-opacity="0.85" stroke-width="4.3" stroke-linecap="square"/>
<line x1="188.3" y1="828.3" x2="1697.9" y2="828.3" stroke="#000" stroke-opacity="0.46" stroke-width="3.9"/>
<path d="M188.3 774.6H190.1V774.6H195.4V774.6H200.6V774.6H205.8V774.6H211.1V774.6H216.3V774.6H221.5V774.6H226.8V774.6H232V774.6H237.3V774.6H242.5V774.6H247.7V774.6H253V774.6H258.2V774.6H263.4V774.6H268.7V774.6H273.9V774.6H279.1V774.6H284.4V774.6H289.6V774.6H294.8V774.6H300.1V774.6H305.3V774.6H310.5V774.6H315.8V774.6H321V774.6H326.2V774.6H331.5V774.6H336.7V774.6H341.9V774.6H347.2V774.6H352.4V774.6H357.6V774.6H362.9V774.6H368.1V774.6H373.3V774.6H378.6V774.6H383.8V774.6H389V774.6H394.3V774.6H399.5V774.6H404.8V774.6H410V774.6H415.2V774.6H420.5V774.6H425.7V774.6H430.9V774.6H436.2V774.6H441.4V774.6H446.6V774.6H451.9V774.6H457.1V774.6H462.3V774.6H467.6V774.6H472.8V774.6H478V774.6H483.3V774.6H488.5V774.6H493.7V774.6H499V774.6H504.2V774.6H509.4V774.6H514.7V774.6H519.9V774.6H525.1V774.6H530.4V774.6H535.6V774.6H540.8V774.6H546.1V774.6H551.3V774.6H556.6V774.6H561.8V774.6H567V774.6H572.3V774.6H577.5V774.6H582.7V774.6H588V774.6H593.2V774.6H598.4V774.6H603.7V774.6H608.9V774.6H614.1V774.6H619.4V774.6H624.6V774.6H629.8V774.6H635.1V774.6H640.3V774.6H645.5V774.6H650.8V774.6H656V774.8H661.2V775.1H666.5V775.4H671.7V776.1H676.9V777.6H682.2V781.3H687.4V787.2H692.6V794.7H697.9V803.9H703.1V816.9H708.3V832.9H713.6V851.8H718.8V875.3H724.1V900.7H729.3V923.5H734.5V945.7H739.8V966.7H745V980.2H750.2V982.8H755.5V977.6H760.7V963.4H765.9V940.2H771.2V914.2H776.4V889.3H781.6V864.2H786.9V840.8H792.1V821.9H797.3V806.9H802.6V794.7H807.8V787.3H813V783.5H818.3V781.9H823.5V781.3H828.7V780.9H834V780.5H839.2V780.2H844.4V779.8H849.7V779.4H854.9V778.9H860.1V778.4H865.4V777.8H870.6V777.3H875.8V776.8H881.1V776.3H886.3V775.9H891.6V775.6H896.8V775.2H902V775H907.3V774.8H912.5V774.7H917.7V774.6H923V774.6H928.2V774.6H933.4V774.6H938.7V774.6H943.9V774.6H949.1V774.6H954.4V774.6H959.6V774.6H964.8V774.6H970.1V774.6H975.3V774.6H980.5V774.6H985.8V774.6H991V774.6H996.2V774.6H1001.5V774.6H1006.7V774.6H1011.9V774.6H1017.2V774.6H1022.4V774.6H1027.6V774.6H1032.9V774.6H1038.1V774.6H1043.3V774.6H1048.6V774.6H1053.8V774.6H1059.1V774.6H1064.3V774.6H1069.5V774.6H1074.8V774.6H1080V774.6H1085.2V774.6H1090.5V774.6H1095.7V774.6H1100.9V774.6H1106.2V774.6H1111.4V774.6H1116.6V774.6H1121.9V774.6H1127.1V774.6H1132.3V774.6H1137.6V774.6H1142.8V774.6H1148V774.6H1153.3V774.6H1158.5V774.6H1163.7V774.7H1169V775H1174.2V776H1179.4V777.5H1184.7V780H1189.9V786H1195.1V792.2H1200.4V805.2H1205.6V818.6H1210.9V833.2H1216.1V848H1221.3V869.6H1226.6V890.9H1231.8V913.6H1237V935H1242.3V952.6H1247.5V960.1H1252.7V961.6H1258V956.4H1263.2V940.5H1268.4V921.1H1273.7V898.6H1278.9V874.2H1284.1V851.2H1289.4V833.2H1294.6V815.5H1299.8V802.7H1305.1V790.4H1310.3V783.5H1315.5V779.5H1320.8V777H1326V775.7H1331.2V775H1336.5V774.7H1341.7V774.6H1346.9V774.6H1352.2V774.6H1357.4V774.6H1362.6V774.6H1367.9V774.6H1373.1V774.6H1378.4V774.6H1383.6V774.6H1388.8V774.6H1394.1V774.6H1399.3V774.6H1404.5V774.6H1409.8V774.6H1415V774.6H1420.2V774.6H1425.5V774.6H1430.7V774.6H1435.9V774.6H1441.2V774.6H1446.4V774.6H1451.6V774.6H1456.9V774.6H1462.1V774.6H1467.3V774.6H1472.6V774.6H1477.8V774.6H1483V774.6H1488.3V774.6H1493.5V774.6H1498.7V774.6H1504V774.6H1509.2V774.6H1514.4V774.6H1519.7V774.6H1524.9V774.6H1530.1V774.6H1535.4V774.6H1540.6V774.6H1545.9V774.6H1551.1V774.6H1556.3V774.6H1561.6V774.6H1566.8V774.6H1572V774.6H1577.3V774.6H1582.5V774.6H1587.7V774.6H1593V774.6H1598.2V774.6H1603.4V774.6H1608.7V774.6H1613.9V774.6H1619.1V774.6H1624.4V774.6H1629.6V774.6H1634.8V774.6H1640.1V774.6H1645.3V774.6H1650.5V774.6H1655.8V774.6H1661V774.6H1666.2V774.6H1671.5V774.6H1676.7V774.6H1681.9V774.6H1687.2V774.6H1692.4V774.6H1697.6V774.6H1697.9" stroke="#00f5f5" stroke-width="4.7" stroke-linejoin="round"/>
<path d="M188.3 227.2H190.1V227.2H195.4V237.7H200.6V242.1H205.8V242.1H211.1V264H216.3V242.1H221.5V236H226.8V242.1H232V249.1H237.3V249.1H242.5V249.1H247.7V252.6H253V236H258.2V236H263.4V240.4H268.7V250H273.9V243H279.1V243H284.4V241.2H289.6V221.9H294.8V204.4H300.1V228.1H305.3V255.3H310.5V261.4H315.8V242.1H321V226.3H326.2V217.5H331.5V222.8H336.7V243.9H341.9V250H347.2V248.2H352.4V236H357.6V237.7H362.9V237.7H368.1V234.2H373.3V223.7H378.6V212.3H383.8V210.5H389V218.4H394.3V219.3H399.5V245.6H404.8V250H410V243H415.2V271.1H420.5V257.9H425.7V255.3H430.9V239.5H436.2V228.1H441.4V228.1H446.6V223.7H451.9V248.2H457.1V271.1H462.3V250H467.6V243.9H472.8V234.2H478V223.7H483.3V223.7H488.5V224.6H493.7V243.9H499V221.1H504.2V221.1H509.4V219.3H514.7V232.5H519.9V253.5H525.1V256.1H530.4V256.1H535.6V264H540.8V253.5H546.1V246.5H551.3V223.7H556.6V243.9H561.8V239.5H567V239.5H572.3V234.2H577.5V212.3H582.7V220.2H588V222.8H593.2V219.3H598.4V219.3H603.7V228.1H608.9V245.6H614.1V245.6H619.4V252.6H624.6V246.5H629.8V221.9H635.1V223.7H640.3V223.7H645.5V298.2H650.8V223.7H656V260.5H661.2V290.4H666.5V290.4H671.7V323.7H676.9V393H682.2V474H687.4V484H692.6V514H697.9V666.7H703.1V754H708.3V733H713.6V645.6H718.8V619H724.1V549H729.3V424.7H734.5V368.6H739.8V333.5H745V314H750.2V291H755.5V291H760.7V280.7H765.9V302.6H771.2V285.1H776.4V280.7H781.6V280.7H786.9V314H792.1V321.1H797.3V309.6H802.6V309.6H807.8V277.2H813V271.1H818.3V285.1H823.5V277.2H828.7V288.6H834V292.1H839.2V292.1H844.4V309.6H849.7V318.4H854.9V318.4H860.1V307H865.4V271.1H870.6V274.6H875.8V274.6H881.1V276.3H886.3V287.7H891.6V271.9H896.8V272.8H902V272.8H907.3V266.7H912.5V269.3H917.7V241.2H923V236.8H928.2V247.4H933.4V250.9H938.7V259.6H943.9V249.1H949.1V249.1H954.4V266.7H959.6V244.7H964.8V236.8H970.1V242.1H975.3V257H980.5V264.9H985.8V250H991V230.7H996.2V245.6H1001.5V250.9H1006.7V249.1H1011.9V249.1H1017.2V244.7H1022.4V244.7H1027.6V236H1032.9V236H1038.1V221.9H1043.3V228.1H1048.6V231.6H1053.8V231.6H1059.1V241.2H1064.3V236H1069.5V226.3H1074.8V214.9H1080V207.9H1085.2V236.8H1090.5V245.6H1095.7V239.5H1100.9V233.3H1106.2V211.4H1111.4V205.3H1116.6V216.7H1121.9V229.8H1127.1V249.1H1132.3V230.7H1137.6V214H1142.8V230.7H1148V257H1153.3V221.1H1158.5V257H1163.7V262.3H1169V299.1H1174.2V316.7H1179.4V339.5H1184.7V372.8H1189.9V398.2H1195.1V448.2H1200.4V637H1205.6V716H1210.9V608H1216.1V449H1221.3V409H1226.6V409H1231.8V343H1237V355.3H1242.3V386.8H1247.5V268.4H1252.7V245.6H1258V269.3H1263.2V266.7H1268.4V255.3H1273.7V264H1278.9V264H1284.1V239.5H1289.4V246.5H1294.6V255.3H1299.8V289.5H1305.1V289.5H1310.3V278.1H1315.5V278.1H1320.8V280.7H1326V271.1H1331.2V271.1H1336.5V312.3H1341.7V289.5H1346.9V282.5H1352.2V257H1357.4V242.1H1362.6V248.2H1367.9V248.2H1373.1V260.5H1378.4V260.5H1383.6V245.6H1388.8V243.9H1394.1V252.6H1399.3V275.4H1404.5V265.8H1409.8V265.8H1415V257.9H1420.2V242.1H1425.5V248.2H1430.7V235.1H1435.9V235.1H1441.2V223.7H1446.4V223.7H1451.6V221.9H1456.9V226.3H1462.1V236H1467.3V238.6H1472.6V221.9H1477.8V223.7H1483V249.1H1488.3V266.7H1493.5V275.4H1498.7V271.1H1504V260.5H1509.2V260.5H1514.4V242.1H1519.7V228.1H1524.9V228.1H1530.1V219.3H1535.4V224.6H1540.6V224.6H1545.9V239.5H1551.1V253.5H1556.3V250.9H1561.6V250.9H1566.8V246.5H1572V246.5H1577.3V230.7H1582.5V232.5H1587.7V232.5H1593V219.3H1598.2V219.3H1603.4V244.7H1608.7V253.5H1613.9V273.7H1619.1V273.7H1624.4V271.1H1629.6V253.5H1634.8V244.7H1640.1V228.1H1645.3V228.1H1650.5V231.6H1655.8V231.6H1661V236.8H1666.2V232.5H1671.5V226.3H1676.7V231.6H1681.9V226.3H1687.2V203.5H1692.4V221.9H1697.6V221.9H1697.9M213.7 264V242.1M224.2 236V242.1M250.3 252.6V249.1M271.3 250V243M297.4 204.4V221.9M313.2 261.4V255.3M328.9 217.5V222.8M344.6 250V248.2M355 236V237.7M386.4 210.5V212.3M407.4 250V245.6M412.6 243V250M417.8 271.1V257.9M449.2 223.7V228.1M459.7 271.1V250M496.4 243.9V224.6M512.1 219.3V221.1M538.2 264V256.1M553.9 223.7V243.9M559.2 243.9V239.5M580.1 212.3V220.2M590.6 222.8V220.2M622 252.6V246.5M632.4 221.9V223.7M648.2 298.2V223.7M653.4 223.7V260.5M705.7 754V733M763.3 280.7V291M768.5 302.6V285.1M794.7 321.1V314M815.7 271.1V277.2M820.9 285.1V277.2M826.1 277.2V285.1M868 271.1V274.6M888.9 287.7V276.3M909.9 266.7V269.3M915.1 269.3V266.7M925.6 236.8V241.2M941.3 259.6V250.9M957 266.7V249.1M967.5 236.8V242.1M983.2 264.9V257M993.6 230.7V245.6M1004.1 250.9V249.1M1040.7 221.9V228.1M1061.7 241.2V236M1082.6 207.9V214.9M1093.1 245.6V239.5M1114 205.3V211.4M1129.7 249.1V230.7M1140.2 214V230.7M1150.7 257V230.7M1155.9 221.1V257M1208.2 716V637M1234.4 343V355.3M1244.9 386.8V355.3M1255.3 245.6V268.4M1260.6 269.3V266.7M1271 255.3V264M1286.7 239.5V246.5M1323.4 280.7V278.1M1339.1 312.3V289.5M1360 242.1V248.2M1391.4 243.9V245.6M1401.9 275.4V265.8M1422.8 242.1V248.2M1428.1 248.2V242.1M1454.2 221.9V223.7M1470 238.6V236M1475.2 221.9V223.7M1496.1 275.4V271.1M1532.8 219.3V224.6M1553.7 253.5V250.9M1579.9 230.7V232.5M1663.6 236.8V232.5M1674.1 226.3V231.6M1679.3 231.6V226.3M1689.8 203.5V221.9" stroke="#1a1a7a" stroke-width="4.3" stroke-linecap="square"/>
<path d="M188.3 233H190.1V233H195.4V233H200.6V233H205.8V233H211.1V233H216.3V233H221.5V233H226.8V233H232V233H237.3V233H242.5V233H247.7V233H253V233H258.2V233H263.4V233H268.7V233H273.9V233H279.1V233H284.4V233H289.6V233H294.8V233H300.1V233H305.3V233H310.5V233H315.8V233H321V233H326.2V233H331.5V233H336.7V233H341.9V233H347.2V233H352.4V233H357.6V233H362.9V233H368.1V233H373.3V233H378.6V233H383.8V233H389V233H394.3V233H399.5V233H404.8V233H410V233H415.2V233H420.5V233H425.7V233H430.9V233H436.2V233H441.4V233H446.6V233H451.9V233H457.1V233H462.3V233H467.6V233H472.8V233H478V233H483.3V233H488.5V233H493.7V233H499V233H504.2V233H509.4V233H514.7V233H519.9V233H525.1V233.1H530.4V233.3H535.6V233.6H540.8V233.9H546.1V234.3H551.3V234.8H556.6V235.4H561.8V235.9H567V236.5H572.3V237H577.5V237.5H582.7V238H588V238.6H593.2V239.3H598.4V240.2H603.7V241.2H608.9V242.4H614.1V243.7H619.4V245H624.6V246.5H629.8V248.1H635.1V249.9H640.3V252H645.5V254.6H650.8V258.3H656V264.8H661.2V273.5H666.5V285.3H671.7V317.5H676.9V359.2H682.2V413.3H687.4V510.6H692.6V615.1H697.9V678.8H703.1V699.2H708.3V701.6H713.6V687.2H718.8V634.4H724.1V544.6H729.3V446.6H734.5V377.9H739.8V336.5H745V313.2H750.2V302.2H755.5V298.5H760.7V297.7H765.9V297.5H771.2V297.5H776.4V297.7H781.6V298H786.9V298.2H792.1V298.4H797.3V298.5H802.6V298.2H807.8V297.3H813V296.4H818.3V295.2H823.5V293.7H828.7V292H834V290.1H839.2V287.8H844.4V285.6H849.7V283.3H854.9V281H860.1V278.9H865.4V276.8H870.6V274.9H875.8V272.9H881.1V271H886.3V269H891.6V267H896.8V264.9H902V262.9H907.3V260.9H912.5V258.9H917.7V257.2H923V255.6H928.2V254H933.4V252.6H938.7V251.2H943.9V249.9H949.1V248.6H954.4V247.3H959.6V246.1H964.8V244.9H970.1V243.8H975.3V242.8H980.5V241.9H985.8V241H991V240.3H996.2V239.6H1001.5V238.9H1006.7V238.2H1011.9V237.6H1017.2V237H1022.4V236.5H1027.6V236H1032.9V235.6H1038.1V235.3H1043.3V235H1048.6V234.8H1053.8V234.6H1059.1V234.6H1064.3V234.7H1069.5V235H1074.8V235.3H1080V235.7H1085.2V236.2H1090.5V236.5H1095.7V236.9H1100.9V237.2H1106.2V237.6H1111.4V238H1116.6V238.5H1121.9V239.1H1127.1V239.8H1132.3V240.7H1137.6V242H1142.8V243.7H1148V246.4H1153.3V250.4H1158.5V256.6H1163.7V266.4H1169V280.9H1174.2V301.7H1179.4V328.9H1184.7V368.5H1189.9V422.2H1195.1V496.4H1200.4V561.6H1205.6V581.1H1210.9V583.7H1216.1V571.4H1221.3V535.6H1226.6V453.8H1231.8V378.7H1237V327.1H1242.3V300.2H1247.5V286.2H1252.7V278.8H1258V274.6H1263.2V273.3H1268.4V272.5H1273.7V272H1278.9V271.8H1284.1V271.6H1289.4V271.5H1294.6V271.4H1299.8V271.2H1305.1V271.1H1310.3V270.9H1315.5V270.6H1320.8V270.1H1326V269.5H1331.2V268.7H1336.5V267.8H1341.7V266.7H1346.9V265.7H1352.2V264.5H1357.4V263.3H1362.6V262.1H1367.9V260.9H1373.1V259.6H1378.4V258.3H1383.6V257H1388.8V255.7H1394.1V254.3H1399.3V253H1404.5V251.7H1409.8V250.3H1415V248.9H1420.2V247.6H1425.5V246.3H1430.7V245.1H1435.9V244.1H1441.2V243.2H1446.4V242.3H1451.6V241.5H1456.9V240.7H1462.1V240H1467.3V239.4H1472.6V238.8H1477.8V238.2H1483V237.6H1488.3V237.1H1493.5V236.6H1498.7V236.2H1504V235.8H1509.2V235.4H1514.4V235.1H1519.7V234.8H1524.9V234.5H1530.1V234.3H1535.4V234H1540.6V233.8H1545.9V233.6H1551.1V233.5H1556.3V233.4H1561.6V233.4H1566.8V233.3H1572V233.3H1577.3V233.3H1582.5V233.3H1587.7V233.2H1593V233.2H1598.2V233.2H1603.4V233.2H1608.7V233.1H1613.9V233.1H1619.1V233.1H1624.4V233.1H1629.6V233.1H1634.8V233.1H1640.1V233.1H1645.3V233H1650.5V233H1655.8V233H1661V233H1666.2V233H1671.5V233H1676.7V233H1681.9V233H1687.2V233H1692.4V233H1697.6V233H1697.9" stroke="#808080" stroke-opacity="0.5" stroke-width="15" stroke-linejoin="round" stroke-linecap="butt"/>
</g>
<rect x="188.3" y="16.8" width="1509.6000000000001" height="1518.9" fill="none" stroke="#000" stroke-width="2.0"/>
<g stroke="#000" stroke-width="2.0">
<line x1="276.4" y1="1535.7" x2="276.4" y2="1547.3"/>
<line x1="486.6" y1="1535.7" x2="486.6" y2="1547.3"/>
<line x1="696.8" y1="1535.7" x2="696.8" y2="1547.3"/>
<line x1="906.9" y1="1535.7" x2="906.9" y2="1547.3"/>
<line x1="1117.1" y1="1535.7" x2="1117.1" y2="1547.3"/>
<line x1="1327.3" y1="1535.7" x2="1327.3" y2="1547.3"/>
<line x1="1537.4" y1="1535.7" x2="1537.4" y2="1547.3"/>
<line x1="176.5" y1="1317.8" x2="188.3" y2="1317.8"/>
<line x1="176.5" y1="1046.8" x2="188.3" y2="1046.8"/>
<line x1="176.5" y1="774.7" x2="188.3" y2="774.7"/>
<line x1="176.5" y1="505.5" x2="188.3" y2="505.5"/>
<line x1="176.5" y1="233.9" x2="188.3" y2="233.9"/>
</g>
<g stroke-linejoin="round">
<text font-size="60.4" stroke="#fff" stroke-width="0.9"><tspan x="189.9" y="1599.3" textLength="164.5" lengthAdjust="spacingAndGlyphs">5885.0</tspan></text>
<text font-size="60.4" stroke="#fff" stroke-width="0.9"><tspan x="400.1" y="1599.3" textLength="164.5" lengthAdjust="spacingAndGlyphs">5887.5</tspan></text>
<text font-size="60.4" stroke="#fff" stroke-width="0.9"><tspan x="610.3" y="1599.3" textLength="164.5" lengthAdjust="spacingAndGlyphs">5890.0</tspan></text>
<text font-size="60.4" stroke="#fff" stroke-width="0.9"><tspan x="820.5" y="1599.3" textLength="164.5" lengthAdjust="spacingAndGlyphs">5892.5</tspan></text>
<text font-size="60.4" stroke="#fff" stroke-width="0.9"><tspan x="1030.6" y="1599.3" textLength="164.5" lengthAdjust="spacingAndGlyphs">5895.0</tspan></text>
<text font-size="60.4" stroke="#fff" stroke-width="0.9"><tspan x="1240.8" y="1599.3" textLength="164.5" lengthAdjust="spacingAndGlyphs">5897.5</tspan></text>
<text font-size="60.4" stroke="#fff" stroke-width="0.9"><tspan x="1451.0" y="1599.3" textLength="164.5" lengthAdjust="spacingAndGlyphs">5900.0</tspan></text>
<text font-size="60.4" stroke="#fff" stroke-width="0.9"><tspan x="87.2" y="1336.8" textLength="76.7" lengthAdjust="spacingAndGlyphs">0.0</tspan></text>
<text font-size="60.4" stroke="#fff" stroke-width="0.9"><tspan x="87.2" y="1065.8" textLength="76.7" lengthAdjust="spacingAndGlyphs">0.5</tspan></text>
<text font-size="60.4" stroke="#fff" stroke-width="0.9"><tspan x="83.9" y="793.7" textLength="80.1" lengthAdjust="spacingAndGlyphs">1.0</tspan></text>
<text font-size="60.4" stroke="#fff" stroke-width="0.9"><tspan x="83.9" y="524.5" textLength="80.1" lengthAdjust="spacingAndGlyphs">1.5</tspan></text>
<text font-size="60.4" stroke="#fff" stroke-width="0.9"><tspan x="86.1" y="252.9" textLength="77.8" lengthAdjust="spacingAndGlyphs">2.0</tspan></text>
<text font-size="63.0" stroke="#fff" stroke-width="0.9"><tspan x="765.3" y="1676.6" textLength="292.3" lengthAdjust="spacingAndGlyphs">wavelength,</tspan> <tspan x="1076.5" y="1676.6" textLength="43.1" lengthAdjust="spacingAndGlyphs">Å</tspan></text>
<text transform="translate(64.6 1300.0) rotate(-90)" font-size="63.0" stroke="#fff" stroke-width="0.9"><tspan x="64.4" y="0.0" textLength="38.0" lengthAdjust="spacingAndGlyphs">F</tspan><tspan x="106.4" y="11.6" textLength="20.4" lengthAdjust="spacingAndGlyphs" font-size="42.0" font-style="italic" stroke-width="0.6">λ</tspan><tspan x="131.6" y="0.0" textLength="9.8" lengthAdjust="spacingAndGlyphs">,</tspan> <tspan x="161.4" y="0.0" textLength="260.8" lengthAdjust="spacingAndGlyphs">continuum</tspan> <tspan x="446.8" y="0.0" textLength="269.7" lengthAdjust="spacingAndGlyphs">normalized</tspan> <tspan x="739.3" y="0.0" textLength="89.8" lengthAdjust="spacingAndGlyphs">and</tspan> <tspan x="851.4" y="0.0" textLength="132.5" lengthAdjust="spacingAndGlyphs">offset</tspan></text>
</g>
<rect x="210.6" y="1069" width="471.0" height="443.5999999999999" rx="7" ry="7" fill="#fff" fill-opacity="0.8" stroke="#d8d8d8" stroke-width="2.2"/>
<line x1="223.7" y1="1102.2" x2="316.0" y2="1102.2" stroke="#fca408" stroke-width="4.7"/>
<line x1="223.7" y1="1163.0" x2="316.0" y2="1163.0" stroke="#fca408" stroke-width="4.7" stroke-dasharray="17.45 7.51"/>
<line x1="223.7" y1="1224.4" x2="316.0" y2="1224.4" stroke="#4d4dff" stroke-width="4.3"/>
<line x1="223.7" y1="1285.2" x2="316.0" y2="1285.2" stroke="#808080" stroke-opacity="0.85" stroke-width="4.0"/>
<line x1="223.7" y1="1346.3" x2="316.0" y2="1346.3" stroke="#00f5f5" stroke-width="4.4"/>
<line x1="223.7" y1="1407.8" x2="316.0" y2="1407.8" stroke="#1a1a7a" stroke-width="4.3"/>
<line x1="218.4" y1="1472.0" x2="322.8" y2="1472.0" stroke="#808080" stroke-opacity="0.5" stroke-width="15"/>
<g stroke-linejoin="round">
<text font-size="44.0" stroke="#fff" stroke-width="0.6"><tspan x="348.1" y="1117.8" textLength="86.1" lengthAdjust="spacingAndGlyphs">Gaia</tspan> <tspan x="450.2" y="1117.8" textLength="56.9" lengthAdjust="spacingAndGlyphs">RV</tspan></text>
<text font-size="44.0" stroke="#fff" stroke-width="0.6"><tspan x="348.1" y="1178.4" textLength="66.6" lengthAdjust="spacingAndGlyphs">em.</tspan> <tspan x="436.4" y="1178.4" textLength="81.8" lengthAdjust="spacingAndGlyphs">lines</tspan></text>
<text font-size="44.0" stroke="#fff" stroke-width="0.6"><tspan x="351.3" y="1240.0" textLength="50.2" lengthAdjust="spacingAndGlyphs">Na</tspan> <tspan x="418.3" y="1240.0" textLength="30.4" lengthAdjust="spacingAndGlyphs">D</tspan> <tspan x="465.1" y="1240.0" textLength="97.4" lengthAdjust="spacingAndGlyphs">5890,</tspan> <tspan x="575.8" y="1240.0" textLength="84.8" lengthAdjust="spacingAndGlyphs">5896</tspan></text>
<text font-size="44.0" stroke="#fff" stroke-width="0.6"><tspan x="351.3" y="1300.6" textLength="66.9" lengthAdjust="spacingAndGlyphs">tell.</tspan> <tspan x="441.6" y="1300.6" textLength="162.2" lengthAdjust="spacingAndGlyphs">template</tspan></text>
<text font-size="44.0" stroke="#fff" stroke-width="0.6"><tspan x="351.3" y="1362.1" textLength="128.0" lengthAdjust="spacingAndGlyphs">BOSZ,</tspan> <tspan x="489.4" y="1362.1" textLength="64.8" lengthAdjust="spacingAndGlyphs">rot.</tspan> <tspan x="577.7" y="1362.1" textLength="51.6" lengthAdjust="spacingAndGlyphs">br.</tspan></text>
<text font-size="44.0" stroke="#fff" stroke-width="0.6"><tspan x="351.3" y="1423.8" textLength="50.2" lengthAdjust="spacingAndGlyphs">Na</tspan> <tspan x="418.3" y="1423.8" textLength="30.4" lengthAdjust="spacingAndGlyphs">D</tspan> <tspan x="463.9" y="1423.8" textLength="80.1" lengthAdjust="spacingAndGlyphs">sub.</tspan></text>
<text font-size="44.0" stroke="#fff" stroke-width="0.6"><tspan x="351.3" y="1485.0" textLength="50.2" lengthAdjust="spacingAndGlyphs">Na</tspan> <tspan x="418.3" y="1485.0" textLength="30.4" lengthAdjust="spacingAndGlyphs">D</tspan> <tspan x="465.1" y="1485.0" textLength="40.4" lengthAdjust="spacingAndGlyphs">fit</tspan></text>
</g>
</g>
</svg>
</body></html>
